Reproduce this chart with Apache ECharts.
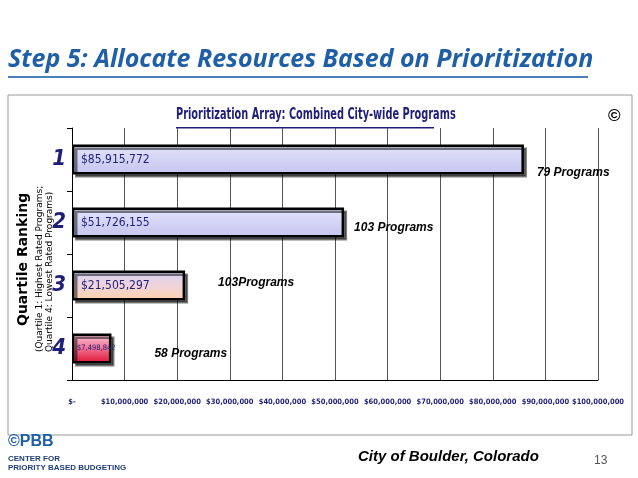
<!DOCTYPE html>
<html><head><meta charset="utf-8">
<script src="https://cdn.jsdelivr.net/npm/echarts@6/dist/echarts.min.js"></script>
<style>html,body{margin:0;padding:0;background:#fff}#c{width:638px;height:478px}</style>
</head><body><div id="c"></div>
<script>
const categories = ['1','2','3','4'];
const values = [85915772, 51726155, 21505297, 7498842];
const valueLabels = ['$85,915,772','$51,726,155','$21,505,297','$7,498,842'];
const programLabels = ['79 Programs','103 Programs','103Programs','58 Programs'];
const xTicks = ['$-','$10,000,000','$20,000,000','$30,000,000','$40,000,000','$50,000,000','$60,000,000','$70,000,000','$80,000,000','$90,000,000','$100,000,000'];

const lav = new echarts.graphic.LinearGradient(0,0,0,1,[{offset:0,color:'#e4e4fb'},{offset:1,color:'#c4c4f0'}]);
const fills = [
  lav, lav,
  new echarts.graphic.LinearGradient(0,0,0,1,[{offset:0,color:'#d4d0f4'},{offset:0.5,color:'#f0d4dc'},{offset:1,color:'#fcd2a8'}]),
  new echarts.graphic.LinearGradient(0,0,0,1,[{offset:0,color:'#f8c8e0'},{offset:0.5,color:'#f07090'},{offset:1,color:'#e01030'}])
];
const chart = echarts.init(document.getElementById('c'));
const cond = '"DejaVu Sans Condensed"';
chart.setOption({
  animation:false,
  graphic:[
    {type:'text',left:8,top:47,style:{text:'Step 5: Allocate Resources Based on Prioritization',font:'italic bold 25px "Open Sans",sans-serif',fill:'#1f5fa8'}},
    {type:'rect',shape:{x:8,y:76,width:580,height:2},style:{fill:'#4a7fb8'}},
    {type:'rect',shape:{x:8,y:95,width:624,height:340},style:{fill:'none',stroke:'#999',lineWidth:1}},
    {type:'text',x:176,y:107,scaleX:0.68,style:{text:'Prioritization Array: Combined City-wide Programs',font:'bold 16px '+cond,fill:'#1f1f7a'}},
    {type:'rect',shape:{x:176,y:127,width:258,height:1.5},style:{fill:'#1f1f7a'}},
    {type:'text',left:608,top:108,style:{text:'©',font:'bold 17px sans-serif',fill:'#000'}},
    {type:'text',x:16,y:326,rotation:Math.PI/2,style:{text:'Quartile Ranking',font:'bold 14px "DejaVu Sans",sans-serif',fill:'#000'}},
    {type:'text',x:35,y:352,rotation:Math.PI/2,style:{text:'(Quartile 1: Highest Rated Programs;\nQuartile 4: Lowest Rated Programs)',font:'9px "DejaVu Sans",sans-serif',fill:'#000',lineHeight:10}},
    {type:'text',left:8,top:434,style:{text:'©PBB',font:'bold 16px sans-serif',fill:'#1f5fa8'}},
    {type:'text',left:8,top:454,style:{text:'CENTER FOR\nPRIORITY BASED BUDGETING',font:'bold 8px sans-serif',fill:'#1f3f78',lineHeight:9}},
    {type:'text',left:358,top:449,style:{text:'City of Boulder, Colorado',font:'italic bold 15px "Liberation Sans",sans-serif',fill:'#000'}},
    {type:'text',left:594,top:455,style:{text:'13',font:'12px sans-serif',fill:'#555'}}
  ],
  grid:{left:72,right:40,top:128,bottom:98},
  xAxis:{type:'value',min:0,max:100000000,interval:10000000,
    axisLine:{show:true,lineStyle:{color:'#000'}},axisTick:{show:false},
    splitLine:{lineStyle:{color:'#555'}},
    axisLabel:{formatter:(v)=>xTicks[Math.round(v/10000000)],fontFamily:'DejaVu Sans Condensed',fontWeight:'bold',fontSize:7.5,color:'#1f1f7a',margin:18,showMaxLabel:true,showMinLabel:true,hideOverlap:false}},
  yAxis:{type:'category',data:categories,inverse:true,
    axisLine:{lineStyle:{color:'#000'}},axisTick:{show:true,length:5,lineStyle:{color:'#000'}},
    axisLabel:{fontFamily:'DejaVu Sans Condensed',fontWeight:'bold',fontStyle:'italic',fontSize:22,color:'#1f1f7a',margin:6}},
  series:[
    {type:'bar',data:values.map((v,i)=>({value:v,itemStyle:{color:fills[i]},label:{fontSize:i===3?7.5:12,distance:i===3?5:9}})),barWidth:30,
     itemStyle:{borderColor:'#000',borderWidth:2.5,shadowColor:'rgba(0,0,0,0.5)',shadowOffsetX:3,shadowOffsetY:3},
     label:{show:true,position:'insideLeft',formatter:(p)=>valueLabels[p.dataIndex],fontFamily:'DejaVu Sans Condensed',color:'#1f1f7a'}},
    {type:'bar',data:values,barWidth:30,barGap:'-100%',itemStyle:{color:'transparent'},silent:true,
     label:{show:true,position:'right',formatter:(p)=>programLabels[p.dataIndex],fontFamily:'Liberation Sans',fontWeight:'bold',fontStyle:'italic',fontSize:12,color:'#000'},
     labelLayout:(p)=>{const off=[[8,13],[5,5],[28,-3],[38,5]][p.dataIndex];return {dx:off[0],dy:off[1]};}}
  ]
});
</script></body></html>
